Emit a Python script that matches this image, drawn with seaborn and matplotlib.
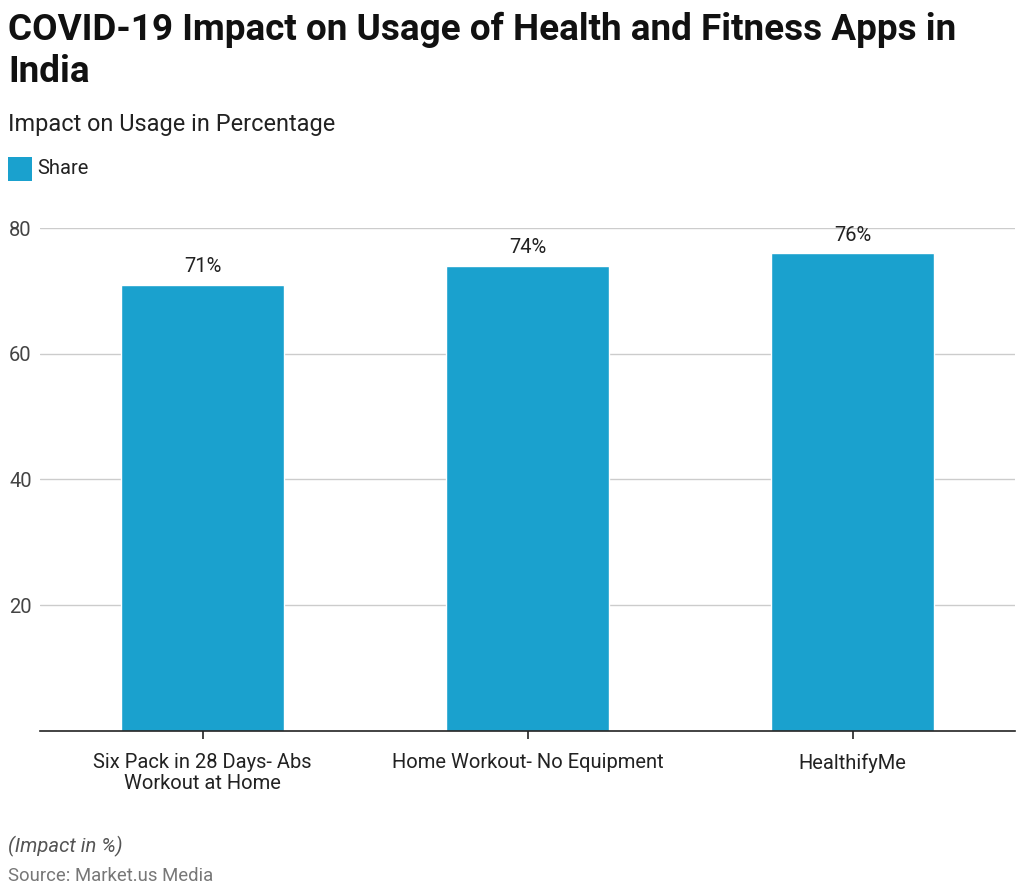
import matplotlib
matplotlib.use("Agg")
import matplotlib.pyplot as plt
import seaborn as sns
import pandas as pd

categories = ["Six Pack in 28 Days- Abs\nWorkout at Home", "Home Workout- No Equipment", "HealthifyMe"]
values = [71, 74, 76]
value_labels = ["71%", "74%", "76%"]
yticks = [20, 40, 60, 80]
series_name = "Share"

sns.set_theme(style="white")
plt.rcParams['font.family'] = ['Roboto', 'DejaVu Sans']

df = pd.DataFrame({"App": categories, "Impact": values})
color = "#1AA1CE"

fig = plt.figure(figsize=(10.24, 8.96), dpi=100)
ax = fig.add_axes([40/1024, 1-731/896, 975/1024, (731-228)/896])

sns.barplot(data=df, x="App", y="Impact", color=color, saturation=1, width=0.5, ax=ax, label=series_name)
ax.set_xlim(-0.5, 2.5)
ax.set_ylim(0, 80)
ax.set_yticks(yticks)
ax.yaxis.grid(True, color="#cccccc", linewidth=1)
ax.set_axisbelow(True)
for s in ["top", "right", "left"]:
    ax.spines[s].set_visible(False)
ax.spines["bottom"].set_color("#222222")
ax.spines["bottom"].set_linewidth(1.2)
ax.tick_params(axis="y", length=0, pad=6, labelsize=14.5, labelcolor="#444444")
ax.tick_params(axis="x", length=6, width=1.2, color="#222222", pad=10, labelsize=14.5, labelcolor="#222222", bottom=True)
for t in ax.get_xticklabels():
    t.set_linespacing(1.15)
ax.set_xlabel("")
ax.set_ylabel("")

for c in ax.containers:
    ax.bar_label(c, labels=value_labels, padding=6, fontsize=14.5, color="#222222")

if ax.get_legend():
    ax.get_legend().remove()

fig.text(8/1024, 1-30/896, "COVID-19 Impact on Usage of Health and Fitness Apps in",
         fontsize=26.6, fontweight="bold", color="#111111", va="center", ha="left")
fig.text(8/1024, 1-72/896, "India",
         fontsize=26.6, fontweight="bold", color="#111111", va="center", ha="left")
fig.text(8/1024, 1-124/896, "Impact on Usage in Percentage", fontsize=16.9, color="#222222", va="center")
fig.patches.append(plt.Rectangle((8/1024, 1-181/896), 24/1024, 24/896, transform=fig.transFigure,
                                 facecolor=color, edgecolor="none"))
fig.text(37/1024, 1-168/896, series_name, fontsize=14.5, color="#222222", va="center")
fig.text(8/1024, 1-846/896, "(Impact in %)", fontsize=14.6, style="italic", color="#555555", va="center")
fig.text(8/1024, 1-876/896, "Source: Market.us Media", fontsize=13.3, color="#777777", va="center")

fig.savefig("out.png", dpi=100)
